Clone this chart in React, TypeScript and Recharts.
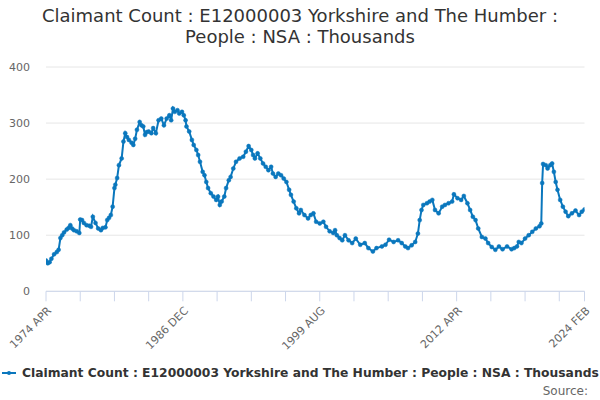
import React from 'react';
import { LineChart, Line, XAxis, YAxis, CartesianGrid } from 'recharts';

// months since 1974 APR
const monthIndex = [
  0, 2, 4, 6, 9, 12, 14, 16, 18, 20, 23, 25, 27, 29, 31, 34, 37, 38, 40, 42,
  45, 48, 50, 52, 55, 58, 61, 63, 66, 68, 70, 72, 74, 76, 77, 79, 81, 84, 86, 88,
  90, 92, 95, 97, 99, 101, 104, 106, 108, 110, 112, 114, 117, 119, 122, 125, 128, 131, 134, 137,
  139, 141, 143, 146, 148, 151, 153, 155, 156, 159, 162, 164, 167, 169, 171, 174, 176, 178, 180, 183,
  186, 189, 191, 193, 195, 198, 200, 203, 205, 208, 211, 215, 219, 222, 225, 228, 230, 232, 235, 238,
  241, 244, 247, 250, 252, 255, 258, 261, 264, 267, 270, 272, 275, 278, 281, 283, 287, 291, 294, 297,
  300, 304, 308, 311, 315, 319, 321, 323, 326, 329, 332, 336, 340, 344, 349, 354, 358, 363, 367, 373,
  377, 381, 386, 391, 395, 399, 402, 406, 410, 413, 415, 417, 419, 423, 426, 429, 432, 436, 440, 443,
  447, 451, 453, 457, 461, 464, 468, 471, 474, 477, 480, 484, 488, 491, 495, 499, 503, 507, 512, 517,
  520, 523, 525, 528, 532, 536, 540, 544, 548, 550, 551, 552, 555, 557, 560, 562, 564, 566, 568, 571,
  574, 577, 580, 584, 588, 592, 595, 598,
];

// claimant count, thousands
const claimants = [
  55, 50, 52, 58, 66, 70, 74, 95, 100, 105, 110, 113, 118, 112, 109, 107, 104, 128, 127, 122,
  118, 117, 115, 133, 122, 112, 109, 113, 114, 127, 131, 136, 151, 184, 190, 202, 225, 237, 267, 282,
  275, 270, 265, 261, 272, 288, 302, 296, 294, 279, 284, 285, 282, 291, 282, 305, 308, 296, 308, 314,
  305, 326, 320, 323, 317, 320, 314, 305, 294, 285, 270, 261, 252, 243, 231, 213, 207, 195, 184, 175,
  169, 163, 169, 154, 160, 169, 184, 198, 204, 219, 231, 237, 240, 249, 259, 252, 243, 237, 246, 237,
  228, 222, 216, 222, 210, 204, 210, 207, 201, 195, 181, 172, 160, 148, 139, 145, 136, 130, 136, 139,
  124, 121, 124, 115, 107, 104, 109, 100, 95, 91, 100, 91, 86, 94, 83, 86, 77, 71, 77, 80,
  83, 92, 88, 91, 86, 80, 77, 82, 88, 103, 127, 145, 154, 157, 160, 163, 145, 139, 151, 154,
  157, 160, 173, 166, 163, 170, 157, 145, 133, 127, 112, 97, 94, 86, 79, 74, 80, 75, 80, 75,
  77, 80, 88, 86, 94, 100, 106, 112, 116, 121, 193, 227, 225, 219, 225, 228, 213, 195, 181, 163,
  151, 142, 134, 139, 144, 136, 142, 146,
];

const xTicks = [0, 38, 76, 114, 152, 190, 228, 266, 304, 342, 380, 418, 456, 494, 532, 570, 598];
const xLabelMonths = [0, 152, 304, 456, 598];
const xLabels = ['1974 APR', '1986 DEC', '1999 AUG', '2012 APR', '2024 FEB'];
const yTicks = [0, 100, 200, 300, 400];

const TITLE_1 = 'Claimant Count : E12000003 Yorkshire and The Humber :';
const TITLE_2 = 'People : NSA : Thousands';
const SERIES = 'Claimant Count : E12000003 Yorkshire and The Humber : People : NSA : Thousands';

const data = monthIndex.map((m, i) => ({ m, value: claimants[i] }));

const LINE = '#0a77bd';
const FONT = '"DejaVu Sans", sans-serif';

function XTick(props: any) {
  const { x, y, payload } = props;
  const idx = xLabelMonths.indexOf(payload.value);
  if (idx < 0) return <g />;
  const ax = x + 6;
  const ay = y + 10;
  return (
    <text
      x={ax}
      y={ay}
      transform={`rotate(-45 ${ax} ${ay})`}
      textAnchor="end"
      fontSize={11}
      fill="#666"
      fontFamily={FONT}
    >
      {xLabels[idx]}
    </text>
  );
}

export default function App() {
  return (
    <div
      style={{
        position: 'absolute',
        left: 0,
        top: 0,
        width: 600,
        height: 400,
        background: '#fff',
        fontFamily: FONT,
        overflow: 'hidden',
      }}
    >
      <div
        style={{
          position: 'absolute',
          top: 5,
          left: 0,
          width: 600,
          textAlign: 'center',
          fontSize: 18,
          lineHeight: '21px',
          color: '#333',
        }}
      >
        <div>{TITLE_1}</div>
        <div>{TITLE_2}</div>
      </div>

      <div style={{ position: 'absolute', top: 0, left: 0 }}>
        <LineChart
          width={600}
          height={360}
          data={data}
          margin={{ top: 67, right: 15.5, left: 0, bottom: 8.7 }}
        >
          <CartesianGrid vertical={false} stroke="#e6e6e6" />
          <XAxis
            dataKey="m"
            type="number"
            domain={[0, 598]}
            ticks={xTicks}
            interval={0}
            height={60}
            tick={<XTick />}
            tickSize={10}
            tickMargin={0}
            stroke="#ccd6eb"
            tickLine={{ stroke: '#ccd6eb' }}
            axisLine={{ stroke: '#ccd6eb' }}
            allowDataOverflow
          />
          <YAxis
            domain={[0, 400]}
            ticks={yTicks}
            width={46}
            axisLine={false}
            tickLine={false}
            tickSize={0}
            tickMargin={16}
            tick={{ fill: '#666', fontSize: 11, fontFamily: FONT }}
          />
          <Line
            type="linear"
            dataKey="value"
            stroke={LINE}
            strokeWidth={2}
            dot={{ r: 2, fill: LINE, stroke: LINE, strokeWidth: 0.5 }}
            isAnimationActive={false}
          />
        </LineChart>
      </div>

      <div
        style={{
          position: 'absolute',
          top: 365,
          left: 0,
          display: 'flex',
          alignItems: 'center',
          whiteSpace: 'nowrap',
        }}
      >
        <svg width={20} height={16} style={{ flex: 'none' }}>
          <line x1={2} y1={8} x2={16} y2={8} stroke={LINE} strokeWidth={2} />
          <circle cx={9} cy={8} r={2} fill={LINE} />
        </svg>
        <span style={{ fontSize: 12.3, fontWeight: 'bold', color: '#333', marginLeft: 2 }}>{SERIES}</span>
      </div>
      <div
        style={{
          position: 'absolute',
          top: 384,
          right: 12,
          fontSize: 12,
          color: '#666',
        }}
      >
        Source:
      </div>
    </div>
  );
}
